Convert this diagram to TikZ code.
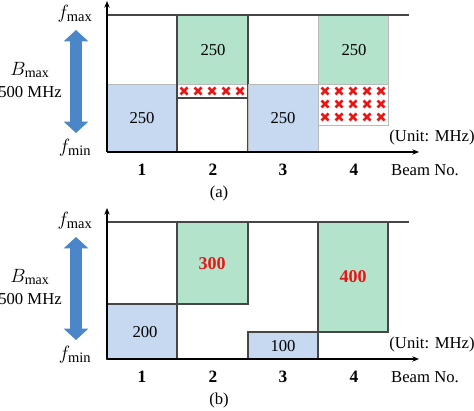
\documentclass[tikz,border=0pt]{standalone}
\usepackage{fontspec}
\setmainfont{Liberation Serif}
\usetikzlibrary{arrows.meta}
\definecolor{beamBlue}{RGB}{198,217,240}
\definecolor{beamGreen}{RGB}{180,227,203}
\definecolor{arrowBlue}{RGB}{74,134,200}
\definecolor{markRed}{RGB}{232,22,22}
\definecolor{lineGray}{RGB}{70,70,70}
\definecolor{edgeGray}{RGB}{185,185,185}

\begin{document}
\begin{tikzpicture}[x=0.75pt, y=-0.75pt, font=\fontsize{12.5}{15}\selectfont,
    lightbox/.style={draw=edgeGray, line width=0.6pt},
    darkbox/.style={draw=lineGray, line width=0.8pt},
    xmark/.style={markRed, line width=2pt},
    freqlabel/.style={font=\fontsize{15.5}{17}\selectfont},
    redval/.style={text=markRed, font=\fontsize{13.5}{15}\selectfont\bfseries}]
    \useasboundingbox (0,0) rectangle (474,410);
    % (a) equal split
    \filldraw[fill=beamBlue, lightbox] (107,84) rectangle (177,152);
    \filldraw[fill=beamGreen, lightbox] (177,15) rectangle (248,84);
    \filldraw[fill=white, lightbox] (177,84) rectangle (248,98);
    \draw[darkbox] (177,98) -- (248,98);
    \draw[darkbox] (177,15) -- (177,152) (248,15) -- (248,152);
    \filldraw[fill=beamBlue, lightbox] (248,84) rectangle (318,152);
    \filldraw[fill=beamGreen, lightbox] (318,15) rectangle (388,84);
    \filldraw[fill=white, lightbox] (318,84) rectangle (388,125);
    \foreach \x in {184,198,...,240} {
        \draw[xmark] (\x-3.5,87.5) -- (\x+3.5,94.5) (\x-3.5,94.5) -- (\x+3.5,87.5);
    }
    \foreach \x in {325,339,...,381} {
        \foreach \y in {91,104,117} {
            \draw[xmark] (\x-3.5,\y-3.5) -- (\x+3.5,\y+3.5) (\x-3.5,\y+3.5) -- (\x+3.5,\y-3.5);
        }
    }
    \node (a1) at (142,118) {250};
    \node (a2) at (213,50) {250};
    \node (a3) at (283,118) {250};
    \node (a4) at (354,50) {250};
    % (b) adapted split
    \filldraw[fill=beamBlue, darkbox] (107,304) rectangle (177,359);
    \filldraw[fill=beamGreen, darkbox] (177,222) rectangle (248,304);
    \filldraw[fill=beamBlue, darkbox] (248,332) rectangle (318,359);
    \filldraw[fill=beamGreen, darkbox] (318,222) rectangle (388,332);
    \node (b1) at (145,332) {200};
    \node[redval] (b2) at (212,264) {300};
    \node (b3) at (283,346) {100};
    \node[redval] (b4) at (353,277) {400};
    % axes and labels of both panels
    \foreach \o/\p in {0/a,207/b} {
        \coordinate (O\p) at (107,152+\o);
        \coordinate (Y\p) at (107,1+\o);
        \coordinate (X\p) at (419,152+\o);
        \coordinate (T\p) at (107,15+\o);
        \coordinate (R\p) at (409,15+\o);
        \coordinate (Up\p) at (76,30+\o);
        \coordinate (Dn\p) at (76,133+\o);
        \draw[lineGray, line width=0.8pt] (T\p) -- (R\p);
        \draw[line width=1.1pt, -{Stealth[length=5pt,width=4pt]}] (O\p) -- (Y\p);
        \draw[line width=1.1pt, -{Stealth[length=5pt,width=4pt]}] (O\p) -- (X\p);
        \draw[arrowBlue, line width=9pt,
              {Triangle[length=8.5pt,width=18pt]}-{Triangle[length=8.5pt,width=18pt]}] (Up\p) -- (Dn\p);
        \node[freqlabel] (fmax\p) at (75,14+\o) {$f_{\mathrm{max}}$};
        \node[freqlabel] (fmin\p) at (75,148+\o) {$f_{\mathrm{min}}$};
        \node[font=\fontsize{15}{17}\selectfont] (Bmax\p) at (30,70+\o) {$B_{\mathrm{max}}$};
        \node (bw\p) at (30,92+\o) {500 MHz};
        \node (unit\p) at (432,137+\o) {(Unit: MHz)};
        \node (beam\p) at (425,170+\o) {Beam No.};
        \foreach \n/\x in {1/142,2/213,3/283,4/354} {
            \node[font=\fontsize{13}{15}\selectfont\bfseries] (num\p\n) at (\x,170+\o) {\n};
        }
        \node (cap\p) at (219,193+\o) {(\p)};
    }
\end{tikzpicture}
\end{document}
